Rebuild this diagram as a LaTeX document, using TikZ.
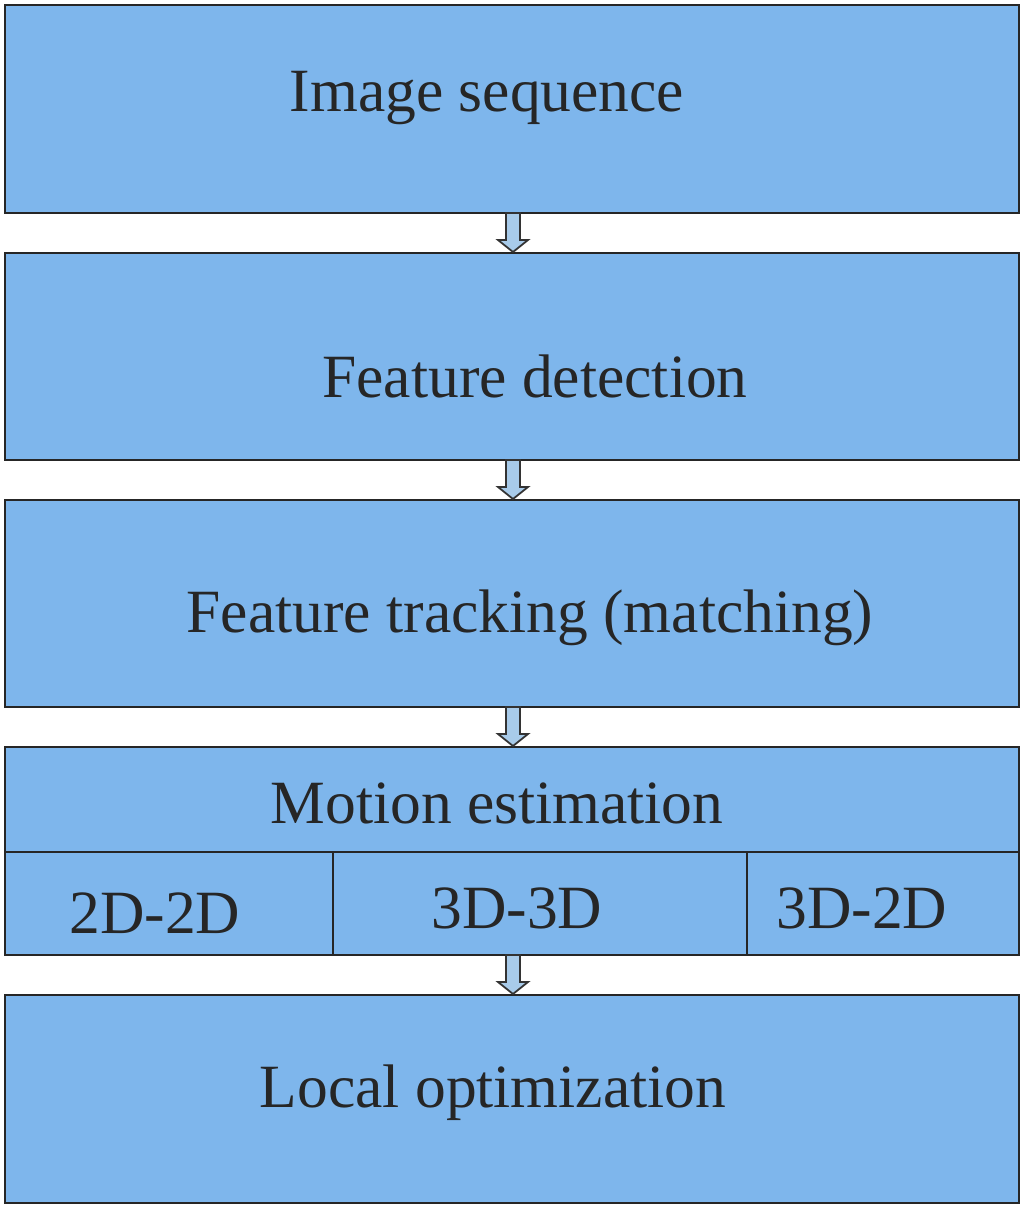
\documentclass[tikz,border=0pt]{standalone}
\usepackage{fontspec}
\setmainfont{Liberation Serif}
\begin{document}
\begin{tikzpicture}[x=0.02cm,y=-0.02cm,
  blk/.style={draw=black!85,line width=1.2pt,fill=boxblue},
  lbl/.style={font=\fontsize{35}{40}\selectfont,text=black!85,inner sep=0},
  barrow/.style={draw=black!80,line width=1pt,fill=arrowblue}]
\definecolor{boxblue}{HTML}{7EB6EC}
\definecolor{arrowblue}{HTML}{A8CBEA}
\useasboundingbox (0,0) rectangle (1024,1209);
\fill[white] (0,0) rectangle (1024,1209);
\draw[blk] (5,5) rectangle (1019,213);
\draw[blk] (5,253) rectangle (1019,460);
\draw[blk] (5,500) rectangle (1019,707);
\draw[blk] (5,747) rectangle (1019,955);
\draw[blk] (5,995) rectangle (1019,1203);
\draw[black!85,line width=1.2pt] (5,852) -- (1019,852) (333,852) -- (333,955) (747,852) -- (747,955);
\node[lbl] (n1) at (487,98) {Image sequence};
\node[lbl] (n2) at (535,376) {Feature detection};
\node[lbl] (n3) at (530,618) {Feature tracking (matching)};
\node[lbl] (n4) at (497,803) {Motion estimation};
\node[lbl] (n4a) at (155,913) {2D-2D};
\node[lbl] (n4b) at (517,908) {3D-3D};
\node[lbl] (n4c) at (862,908) {3D-2D};
\node[lbl] (n5) at (493,1093) {Local optimization};
\foreach \t in {213,460,707,955}{
  \draw[barrow] (506,\t) -- (520,\t) -- (520,\t+27) -- (528,\t+27) -- (513,\t+39) -- (498,\t+27) -- (506,\t+27) -- cycle;
}
\end{tikzpicture}
\end{document}
